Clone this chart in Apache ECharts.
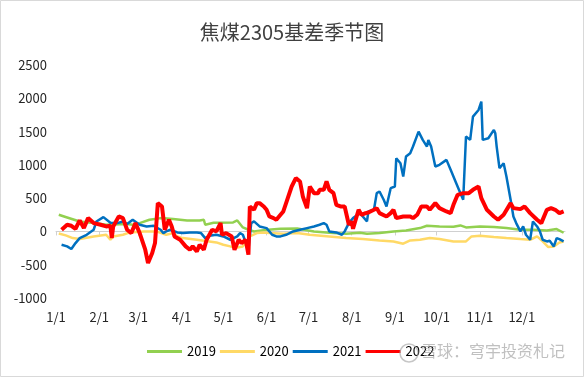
<!DOCTYPE html>
<html>
<head>
<meta charset="utf-8">
<script src="https://cdn.jsdelivr.net/npm/echarts@6/dist/echarts.min.js"></script>
<style>
  html, body { margin: 0; padding: 0; background: #fff; }
</style>
</head>
<body>
<div id="myChart" style="width: 584px; height: 377px;"></div>
<script>
  // 月初位置（一年中的第几天）和标签
  const monthStarts = [0, 31, 59, 90, 120, 151, 181, 212, 243, 273, 304, 334];
  const monthLabels = ['1/1', '2/1', '3/1', '4/1', '5/1', '6/1', '7/1', '8/1', '9/1', '10/1', '11/1', '12/1'];
  const yTicks = [-1000, -500, 0, 500, 1000, 1500, 2000, 2500];

  // [day, 基差]
  const s2019 = [
    [2, 250], [8, 210], [17, 150], [27, 125], [36, 100], [51, 110], [55, 100], [60, 125],
    [67, 175], [75, 200], [84, 185], [94, 165], [103, 165], [106, 175], [107, 100], [113, 130],
    [127, 135], [130, 165], [134, 60], [138, 25], [142, 0], [150, 20], [161, 40], [173, 45],
    [185, 0], [196, -20], [208, -35], [218, -20], [223, -35], [232, -25], [242, 0], [251, 15],
    [261, 50], [266, 85], [275, 75], [285, 70], [290, 90], [294, 60], [304, 75], [314, 65],
    [323, 50], [333, 25], [342, 25], [352, 15], [359, 35], [364, -20]
  ];
  const s2020 = [
    [2, -30], [7, -60], [12, -100], [17, -115], [27, -75], [36, -50], [39, -125], [41, -75],
    [48, -50], [53, -15], [63, 0], [72, 0], [79, -50], [84, -25], [87, -75], [91, -100],
    [101, -125], [110, -150], [115, -165], [120, -200], [125, -225], [130, -240], [134, -225],
    [139, -75], [144, -25], [149, -15], [153, -25], [163, -35], [173, -25], [182, -50],
    [196, -75], [208, -100], [220, -115], [232, -135], [242, -150], [249, -185], [254, -135],
    [261, -125], [268, -100], [275, -115], [285, -150], [294, -150], [298, -75], [304, -65],
    [314, -85], [323, -100], [333, -115], [340, -125], [345, -75], [349, -150], [353, -235],
    [357, -225], [361, -165], [364, -150]
  ];
  const s2021 = [
    [4, -200], [8, -225], [11, -265], [14, -175], [17, -100], [22, -50], [27, 25], [29, 150],
    [34, 215], [39, 130], [44, 125], [48, 150], [51, 110], [55, 175], [60, 100], [65, 75],
    [70, 85], [75, 25], [77, -25], [79, 0], [82, 25], [87, -15], [91, -25], [96, -15],
    [101, -15], [104, -25], [107, -100], [110, -65], [115, -50], [120, -75], [125, -125],
    [130, -75], [132, -25], [134, -50], [138, -275], [140, 125], [142, 150], [146, 75],
    [151, 50], [155, -50], [158, -75], [161, -75], [165, -50], [170, 0], [175, 25], [180, 50],
    [185, 75], [189, 100], [192, 125], [194, 100], [196, 0], [201, -15], [205, -50], [207, 0],
    [210, 125], [213, 200], [218, 275], [223, 150], [224, 300], [228, 325], [230, 575],
    [232, 600], [235, 475], [237, 375], [240, 650], [243, 675], [244, 1100], [247, 1025],
    [249, 825], [251, 1125], [254, 1175], [256, 1275], [260, 1500], [263, 1375], [266, 1275],
    [267, 1375], [269, 1275], [272, 975], [275, 1000], [280, 1075], [283, 925], [285, 825],
    [287, 725], [290, 575], [292, 475], [294, 1425], [297, 1375], [299, 1725], [303, 1825],
    [305, 1950], [306, 1375], [310, 1400], [314, 1525], [315, 1475], [316, 1275], [318, 950],
    [321, 1025], [323, 825], [326, 475], [328, 225], [330, 125], [333, 0], [335, 75],
    [337, -50], [340, -125], [342, 150], [345, 75], [347, 0], [349, -125], [352, -150],
    [354, -140], [357, -225], [359, -100], [361, -115], [364, -150]
  ];
  const s2022 = [
    [4, 25], [8, 100], [11, 85], [14, 40], [17, 165], [20, 50], [23, 200], [27, 125],
    [32, 100], [36, 75], [39, 85], [40, -100], [41, 75], [45, 225], [48, 200], [51, 25],
    [54, -25], [57, 125], [60, -25], [64, -275], [66, -475], [69, -325], [71, -175], [73, 425],
    [76, 375], [78, 25], [81, 175], [83, 75], [85, -75], [89, -125], [93, -225], [96, -275],
    [98, -225], [101, -300], [103, -200], [106, -275], [108, -125], [112, 25], [115, 0],
    [118, 125], [119, -50], [122, -25], [126, -75], [128, -275], [131, -125], [133, -175],
    [136, -125], [138, -350], [139, 375], [142, 325], [144, 425], [146, 425], [149, 375],
    [151, 325], [153, 225], [156, 200], [158, 175], [161, 250], [163, 300], [165, 425],
    [169, 675], [172, 800], [175, 750], [177, 525], [180, 350], [182, 675], [185, 575],
    [188, 575], [189, 625], [192, 625], [194, 750], [196, 625], [199, 575], [201, 400],
    [204, 375], [207, 375], [210, 100], [212, 150], [213, 40], [217, 325], [219, 250],
    [222, 275], [224, 285], [228, 325], [230, 350], [232, 275], [237, 225], [240, 275],
    [242, 325], [244, 200], [249, 225], [254, 225], [256, 200], [259, 250], [262, 375],
    [266, 375], [268, 325], [272, 425], [275, 350], [280, 300], [283, 275], [285, 400],
    [288, 550], [292, 575], [296, 575], [299, 625], [303, 675], [305, 500], [309, 325],
    [314, 225], [317, 175], [321, 250], [326, 425], [328, 350], [333, 335], [336, 375],
    [340, 275], [345, 175], [348, 125], [352, 325], [355, 350], [358, 325], [361, 275],
    [364, 300]
  ];

  const myChart = echarts.init(document.getElementById('myChart'));

  function lineSeries(name, data, color, width) {
    return {
      name: name,
      type: 'line',
      data: data,
      symbol: 'none',
      smooth: false,
      lineStyle: { color: color, width: width },
      itemStyle: { color: color }
    };
  }

  myChart.setOption({
    backgroundColor: '#fff',
    animation: false,
    title: {
      text: '焦煤2305基差季节图',
      left: 'center',
      top: 17,
      textStyle: {
        color: '#404040',
        fontSize: 20,
        fontWeight: 'normal',
        fontFamily: 'Noto Sans CJK SC'
      }
    },
    legend: {
      left: 147,
      top: 345,
      padding: 0,
      icon: 'rect',
      itemWidth: 35,
      itemHeight: 3,
      itemGap: 4,
      textStyle: { color: '#000', fontSize: 13, fontFamily: 'Noto Sans CJK SC' },
      data: ['2019', '2020', '2021', '2022']
    },
    grid: {
      left: 56,
      right: 19,
      top: 65,
      bottom: 79
    },
    xAxis: [
      {
        // 零轴线和刻度
        type: 'value',
        min: 0,
        max: 365,
        axisLine: { onZero: true, lineStyle: { color: '#D0D0D0', width: 1 } },
        axisTick: { show: true, customValues: monthStarts, length: 4, lineStyle: { color: '#D0D0D0' } },
        axisLabel: { show: false },
        splitLine: { show: false }
      },
      {
        // 底部月份标签
        type: 'value',
        min: 0,
        max: 365,
        position: 'bottom',
        axisLine: { show: false, onZero: false },
        axisTick: { show: false },
        splitLine: { show: false },
        axisLabel: {
          customValues: monthStarts,
          margin: 13,
          color: '#262626',
          fontSize: 13,
          fontFamily: 'Noto Sans CJK SC',
          formatter: function (v) {
            return monthLabels[monthStarts.indexOf(v)];
          }
        }
      }
    ],
    yAxis: {
      type: 'value',
      min: yTicks[0],
      max: yTicks[yTicks.length - 1],
      interval: 500,
      axisLine: { show: false },
      axisTick: { show: false },
      splitLine: { show: false },
      axisLabel: {
        margin: 9,
        color: '#262626',
        fontSize: 13,
        fontFamily: 'Noto Sans CJK SC',
        formatter: function (v) {
          return String(v);
        }
      }
    },
    series: [
      lineSeries('2019', s2019, '#92D050', 2.5),
      lineSeries('2020', s2020, '#FFD966', 2.5),
      lineSeries('2021', s2021, '#0070C0', 2.5),
      lineSeries('2022', s2022, '#FF0000', 4)
    ],
    graphic: [
      {
        type: 'rect',
        shape: { x: 0.5, y: 0.5, width: 583, height: 376 },
        style: { fill: 'none', stroke: '#D9D9D9', lineWidth: 1 },
        silent: true
      },
      {
        // 水印
        type: 'circle',
        shape: { cx: 409, cy: 353, r: 9 },
        style: { fill: 'none', stroke: 'rgba(160,160,160,0.6)', lineWidth: 1.5 },
        silent: true,
        z: 100
      },
      {
        type: 'text',
        left: 421,
        top: 343,
        style: {
          text: '雪球：穹宇投资札记',
          fill: 'rgba(150,150,150,0.6)',
          fontSize: 16,
          fontFamily: 'Noto Sans CJK SC'
        },
        silent: true,
        z: 100
      }
    ]
  });
</script>
</body>
</html>
